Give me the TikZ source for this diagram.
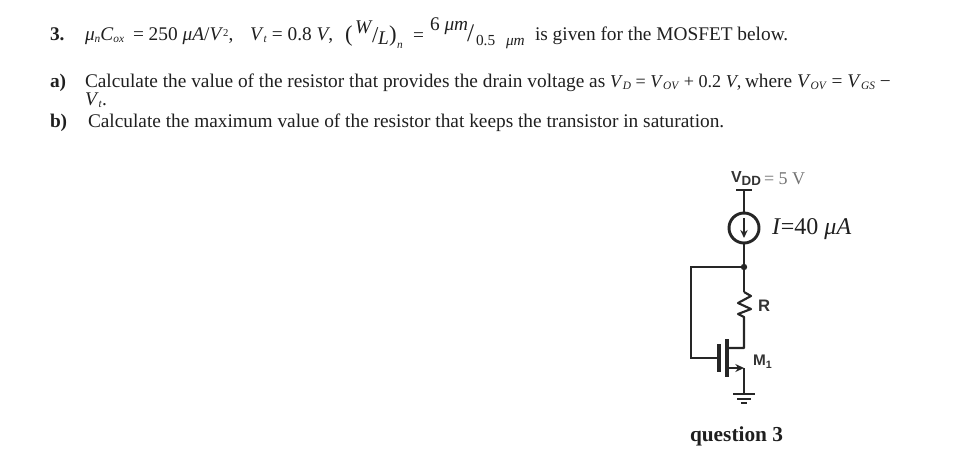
\documentclass[tikz,border=0pt]{standalone}
\usepackage{fontspec}
\setmainfont{Liberation Serif}
\setsansfont{Liberation Sans}
\usetikzlibrary{arrows.meta}
\newcommand{\ii}[1]{\textit{#1}}
\newcommand{\sbs}[1]{\raisebox{-2pt}{\fontsize{8.5}{9}\selectfont\textit{#1}}}
\tikzset{
 txt/.style={anchor=base west,inner sep=0pt,outer sep=0pt,font=\fontsize{14.5}{16}\selectfont,text=black!88},
 boldtxt/.style={txt,font=\bfseries\fontsize{14.5}{16}\selectfont},
 mini/.style={txt,font=\fontsize{11.5}{12}\selectfont},
 wire/.style={line width=1.6pt,draw=black!85},
 plate/.style={line width=2.6pt,draw=black!85},
 lbl/.style={anchor=base west,inner sep=0pt,outer sep=0pt,font=\sffamily\bfseries\fontsize{12.5}{14}\selectfont,text=black!80},
}
\begin{document}
\begin{tikzpicture}[x=0.75pt,y=-0.75pt]
\useasboundingbox (0,0) rectangle (978,469);
\node[boldtxt] (n3) at (50,40) {3.};
\node[txt] (mu) at (85,40) {\ii{μ}\sbs{n}\ii{C}\sbs{ox}};
\node[txt] (g1) at (133,40) {= 250 \ii{μA}/\ii{V}\raisebox{3pt}{\fontsize{8}{8}\selectfont 2},};
\node[txt] (g2) at (250,40) {\ii{V}\sbs{t} = 0.8 \ii{V},};
\node[txt,font=\fontsize{17}{18}\selectfont] (wlo) at (345,41) {(};
\node[txt] (wlw) at (355,33) {\ii{W}};
\node[txt,font=\fontsize{17}{18}\selectfont] (wls) at (372,42) {/};
\node[txt] (wll) at (378,44) {\ii{L}};
\node[txt,font=\fontsize{17}{18}\selectfont] (wlc) at (389,41) {)};
\node[txt,font=\fontsize{8.5}{9}\selectfont\itshape] (wln) at (397,48) {n};
\node[txt] (eq) at (413,41) {=};
\node[txt] (six) at (430,30) {6 \ii{μm}};
\node[txt,font=\fontsize{19}{20}\selectfont] (sl) at (467,41) {/};
\node[mini] (half) at (476,45) {0.5};
\node[mini] (halfm) at (506,45) {\ii{μm}};
\node[txt] (tail) at (535,40) {is given for the MOSFET below.};
\node[boldtxt] (a) at (50,87) {a)};
\node[txt] (la) at (85,87) {Calculate the value of the resistor that provides the drain voltage as};
\node[txt,font=\fontsize{13.6}{16}\selectfont] (la1) at (610,87) {\ii{V}\sbs{D} = \ii{V}\sbs{OV} + 0.2 \ii{V},};
\node[txt] (la3) at (745,87) {where};
\node[txt] (la4) at (797,87) {\ii{V}\sbs{OV} = \ii{V}\sbs{GS} −};
\node[txt] (la2) at (85,105) {\ii{V}\sbs{t}.};
\node[boldtxt] (b) at (50,127) {b)};
\node[txt] (lb) at (88,127) {Calculate the maximum value of the resistor that keeps the transistor in saturation.};
% circuit
\coordinate (vddl) at (736,190);
\coordinate (vddr) at (752,190);
\coordinate (vdd) at (744,190);
\node[circle,draw=black!85,line width=2.2pt,minimum size=22.5pt,inner sep=0pt] (src) at (744,228) {};
\coordinate (j) at (744,267);
\coordinate (fbtop) at (691,267);
\coordinate (gate) at (691,358);
\coordinate (gp) at (719,358);
\coordinate (rtop) at (744,292);
\coordinate (rbot) at (744,317);
\coordinate (dr) at (744,348);
\coordinate (drc) at (727,348);
\coordinate (sr) at (744,368);
\coordinate (src2) at (727,368);
\coordinate (gnd) at (744,394);
\draw[wire,line width=2pt] (vddl) -- (vddr);
\draw[wire] (vdd) -- (src.north);
\draw[wire] (src.south) -- (j) -- (rtop);
\draw[wire] (j) -- (fbtop) -- (gate) -- (gp);
\fill[black!85] (j) circle (2.4pt);
\draw[wire,-{Stealth[length=6pt,width=5.5pt]}] (744,218) -- (744,238);
\draw[wire,line join=round] (rtop) -- (751,296) -- (738,303) -- (751,309) -- (738,314) -- (rbot) -- (dr) -- (drc);
\draw[plate] (719,344) -- (719,372);
\draw[plate] (727,339) -- (727,377);
\draw[wire,-{Stealth[length=6.5pt,width=6pt]}] (src2) -- (sr);
\draw[wire] (sr) -- (gnd);
\draw[wire,line width=1.8pt] (733,394) -- (755,394);
\draw[wire,line width=1.8pt] (737,399) -- (751,399);
\draw[wire,line width=2pt] (741,403) -- (747,403);
\node[lbl,font=\sffamily\bfseries\fontsize{12}{13}\selectfont] (vddt) at (731,182) {V\raisebox{-2.5pt}{\fontsize{10}{10}\selectfont DD}};
\node[txt,font=\fontsize{13.5}{14}\selectfont,text=black!55] (five) at (764,184) {= 5 V};
\node[txt,font=\fontsize{18}{20}\selectfont] (curr) at (772,234) {\ii{I}=40 \ii{μA}};
\node[lbl] (rl) at (758,311) {R};
\node[lbl,font=\sffamily\bfseries\fontsize{11.5}{12}\selectfont] (m1) at (753,365) {M\raisebox{-2.5pt}{\fontsize{8}{8}\selectfont 1}};
\node[txt,font=\bfseries\fontsize{16}{18}\selectfont] (cap) at (690,441) {question 3};
\end{tikzpicture}
\end{document}
